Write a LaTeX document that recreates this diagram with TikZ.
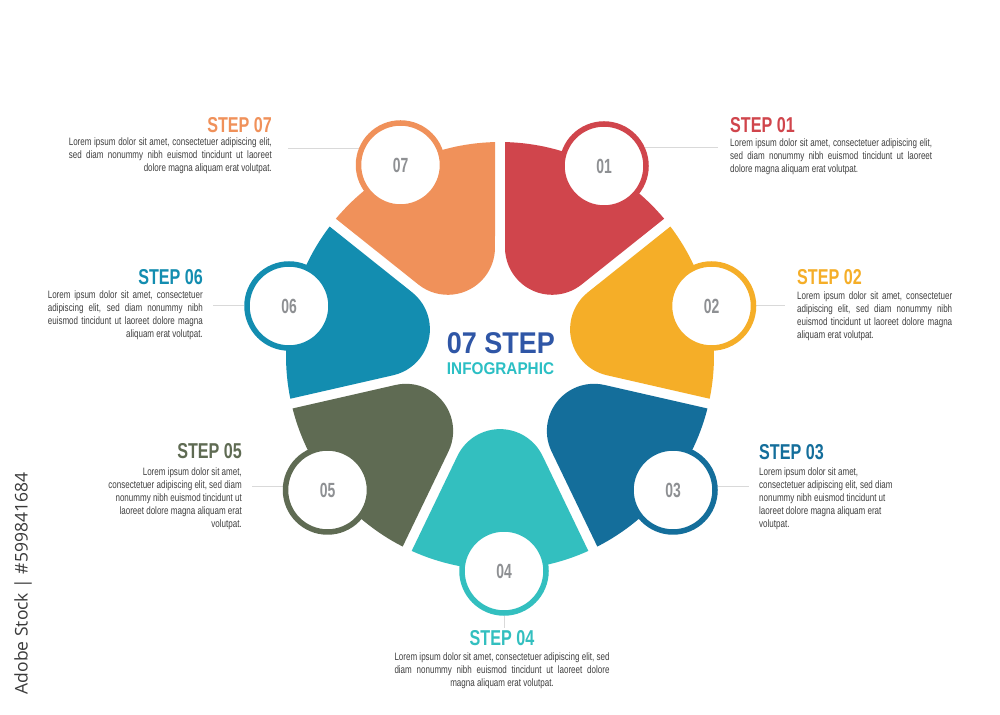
\documentclass[tikz,border=0pt]{standalone}
\usepackage{fontspec}
\usetikzlibrary{backgrounds}
\setmainfont{Liberation Sans}
\newfontfamily\bodyfont[FakeStretch=0.75]{Liberation Sans}
\newfontfamily\titlefont[FakeStretch=0.75]{Liberation Sans}
\newfontfamily\numfont[FakeStretch=0.68]{Liberation Sans}
\newfontfamily\headfontA[FakeStretch=0.9]{Liberation Sans}
\newfontfamily\headfontB[FakeStretch=0.9]{Liberation Sans}
\newfontfamily\wmfont{Open Sans}
\definecolor{cA}{HTML}{D0454C}
\definecolor{cB}{HTML}{F5AE28}
\definecolor{cC}{HTML}{146E9B}
\definecolor{cD}{HTML}{33BFBF}
\definecolor{cE}{HTML}{5F6B53}
\definecolor{cF}{HTML}{138DB0}
\definecolor{cG}{HTML}{F0915A}
\definecolor{numgray}{HTML}{8E9093}
\definecolor{bodygray}{HTML}{404040}
\definecolor{linegray}{HTML}{D9D9D9}
\definecolor{headblue}{HTML}{2F56A6}
\definecolor{headteal}{HTML}{2BBFC4}
\definecolor{wmgray}{HTML}{3A3A3A}
\newcommand\jl[2]{\makebox[#1pt][s]{#2}}
\newcommand\petal[2]{%
  \begin{scope}[shift={(500,358)},rotate=#1]
    \fill[#2] (24.375:214) -- (99.82,42.52)
      arc[start angle=115.714,end angle=244.286,radius=47.19]
      -- (-24.375:214)
      arc[start angle=-24.375,end angle=24.375,radius=214] -- cycle;
  \end{scope}}
\begin{document}
\begin{tikzpicture}[x=1pt,y=1pt,
  numcirc/.style={circle,draw=#1,line width=5.5pt,fill=white,minimum size=84pt,inner sep=0pt,
    font=\numfont\bfseries\fontsize{20.5}{20.5}\selectfont,text=numgray},
  steptitle/.style={font=\titlefont\bfseries\fontsize{21.5}{21.5}\selectfont,text=#1,inner sep=0pt},
  body/.style={font=\bodyfont\fontsize{10.7}{13}\selectfont,text=bodygray,inner sep=0pt},
  conn/.style={draw=linegray,line width=0.9pt}]
\useasboundingbox (0,0) rectangle (1000,714);
\begin{scope}[on background layer]
  \fill[white] (0,0) rectangle (1000,714);
\end{scope}

% petals
\petal{64.286}{cA}
\petal{12.857}{cB}
\petal{-38.571}{cC}
\petal{-90}{cD}
\petal{-141.429}{cE}
\petal{167.143}{cF}
\petal{115.714}{cG}

% number circles
\node[numcirc=cA] (c1) at (604,548) {01};
\node[numcirc=cB] (c2) at (711.5,408) {02};
\node[numcirc=cC] (c3) at (673,224) {03};
\node[numcirc=cD] (c4) at (504,143) {04};
\node[numcirc=cE] (c5) at (327.5,224) {05};
\node[numcirc=cF] (c6) at (289,408) {06};
\node[numcirc=cG] (c7) at (400.5,549) {07};

% connector ends
\coordinate (l1) at (718,565);
\coordinate (l2) at (785,409);
\coordinate (l3) at (749,227);
\coordinate (l4) at (504,86);
\coordinate (l5) at (252,227);
\coordinate (l6) at (213,409);
\coordinate (l7) at (288,565);

\begin{scope}[on background layer]
  \draw[conn] (c1.24) -- (c1.24 -| l1);
  \draw[conn] (c2.1) -- (c2.1 -| l2);
  \draw[conn] (c3.4) -- (c3.4 -| l3);
  \draw[conn] (c4.south) -- (c4.south |- l4);
  \draw[conn] (c5.176) -- (c5.176 -| l5);
  \draw[conn] (c6.179) -- (c6.179 -| l6);
  \draw[conn] (c7.158) -- (c7.158 -| l7);
\end{scope}

% titles
\node[steptitle=cA,anchor=base west] (h1) at (730,581) {STEP 01};
\node[steptitle=cB,anchor=base west] (h2) at (797,429) {STEP 02};
\node[steptitle=cC,anchor=base west] (h3) at (759,254) {STEP 03};
\node[steptitle=cD,anchor=base] (h4) at (502,68) {STEP 04};
\node[steptitle=cE,anchor=base east] (h5) at (242,255) {STEP 05};
\node[steptitle=cF,anchor=base east] (h6) at (203,429) {STEP 06};
\node[steptitle=cG,anchor=base east] (h7) at (272,581) {STEP 07};

% bodies
\node[body,anchor=north west,align=left] (b1) at (730,575)
  {\jl{202}{Lorem ipsum dolor sit amet, consectetuer adipiscing elit,}\\
   \jl{202}{sed diam nonummy nibh euismod tincidunt ut laoreet}\\
   dolore magna aliquam erat volutpat.};
\node[body,anchor=north west,align=left] (b2) at (797,422.5)
  {\jl{155}{Lorem ipsum dolor sit amet, consectetuer}\\
   \jl{155}{adipiscing elit, sed diam nonummy nibh}\\
   \jl{155}{euismod tincidunt ut laoreet dolore magna}\\
   aliquam erat volutpat.};
\node[body,anchor=north west,align=left] (b3) at (759,246)
  {Lorem ipsum dolor sit amet,\\
   consectetuer adipiscing elit, sed diam\\
   nonummy nibh euismod tincidunt ut\\
   laoreet dolore magna aliquam erat\\
   volutpat.};
\node[body,anchor=north,align=center] (b4) at (502,61)
  {\jl{215}{Lorem ipsum dolor sit amet, consectetuer adipiscing elit, sed}\\
   \jl{215}{diam nonummy nibh euismod tincidunt ut laoreet dolore}\\
   magna aliquam erat volutpat.};
\node[body,anchor=north east,align=right] (b5) at (242,246)
  {Lorem ipsum dolor sit amet,\\
   consectetuer adipiscing elit, sed diam\\
   nonummy nibh euismod tincidunt ut\\
   laoreet dolore magna aliquam erat\\
   volutpat.};
\node[body,anchor=north east,align=right] (b6) at (203,423)
  {\jl{155}{Lorem ipsum dolor sit amet, consectetuer}\\
   \jl{155}{adipiscing elit, sed diam nonummy nibh}\\
   \jl{155}{euismod tincidunt ut laoreet dolore magna}\\
   aliquam erat volutpat.};
\node[body,anchor=north east,align=right] (b7) at (272,576)
  {\jl{203}{Lorem ipsum dolor sit amet, consectetuer adipiscing elit,}\\
   \jl{203}{sed diam nonummy nibh euismod tincidunt ut laoreet}\\
   dolore magna aliquam erat volutpat.};

% center title
\node[font=\headfontA\bfseries\fontsize{30}{30}\selectfont,text=headblue,anchor=base,inner sep=0pt] (ttl) at (501,360) {07 STEP};
\node[font=\headfontB\bfseries\fontsize{17}{17}\selectfont,text=headteal,anchor=base,inner sep=0pt] (sub) at (500.5,339) {INFOGRAPHIC};

% side label
\node[rotate=90,font=\wmfont\fontsize{17.5}{17.5}\selectfont,text=wmgray,inner sep=0pt] (wm) at (23,130.5) {Adobe Stock | \#599841684};
\end{tikzpicture}
\end{document}
